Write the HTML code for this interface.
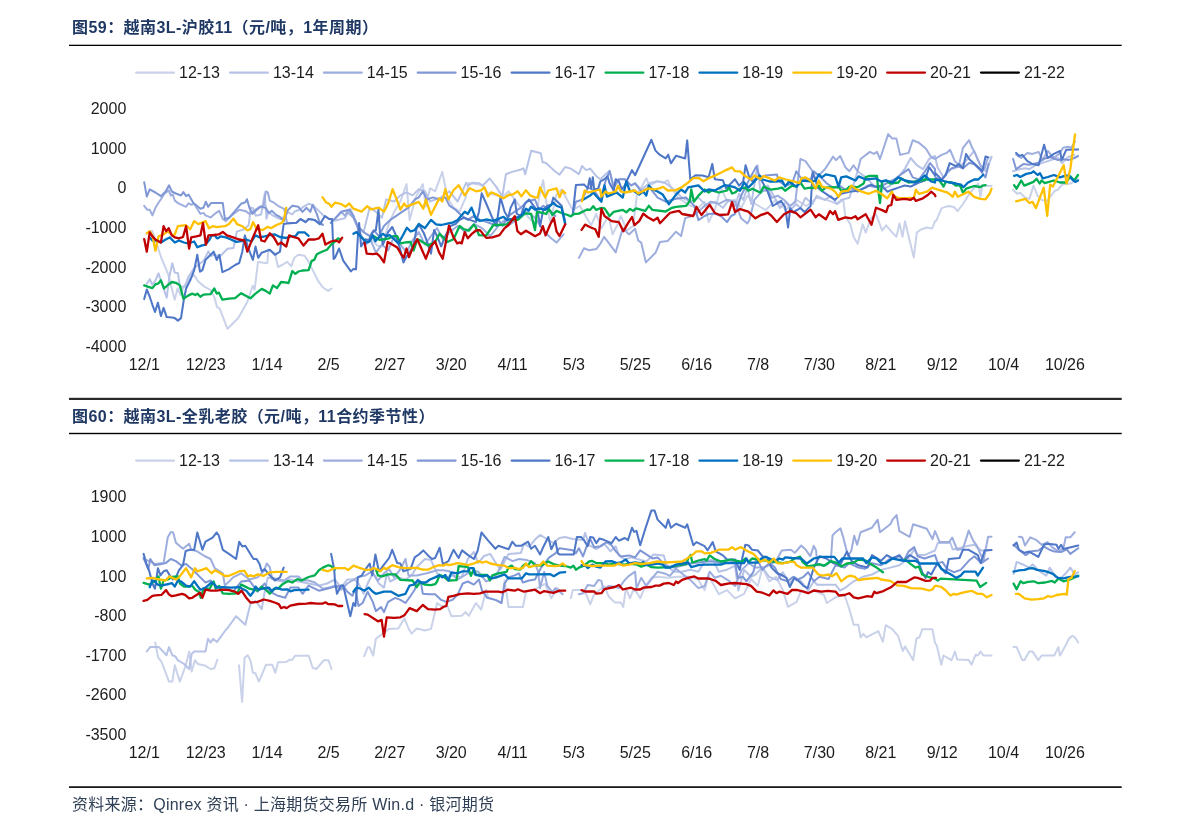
<!DOCTYPE html>
<html lang="zh-CN"><head><meta charset="utf-8"><title>图59 图60</title>
<style>
html,body{margin:0;padding:0;background:#fff;}
body{width:1191px;height:832px;position:relative;overflow:hidden;font-family:"Liberation Sans","Noto Sans CJK SC",sans-serif;color:#1a1a1a;}
.ttl{position:absolute;left:72px;font-family:"Liberation Sans","Noto Sans CJK SC",sans-serif;font-weight:700;font-size:16px;line-height:20px;color:#1f3864;white-space:nowrap;letter-spacing:0.45px;}
.src{position:absolute;left:72px;top:795px;font-size:16px;line-height:20px;color:#2f3f55;white-space:nowrap;letter-spacing:0.24px;}
svg{position:absolute;left:0;top:0;}
svg text{font-family:"Liberation Sans",sans-serif;font-size:16px;fill:#1c1c1c;}
polyline{fill:none;stroke-linejoin:round;stroke-linecap:round;}
</style></head><body>
<div class="ttl" style="top:18px">图59：越南3L-沪胶11（元/吨，1年周期）</div>
<div class="ttl" style="top:407px">图60：越南3L-全乳老胶（元/吨，11合约季节性）</div>
<svg width="1191" height="832" viewBox="0 0 1191 832">
<rect x="69" y="44.7" width="1052.7" height="1.3" fill="#000"/>
<rect x="69" y="397.8" width="1052.7" height="2.2" fill="#2a2a2a"/>
<rect x="69" y="432.8" width="1052.7" height="1.4" fill="#000"/>
<rect x="69" y="786.3" width="1052.7" height="1.6" fill="#000"/>

<g class="lab">
<line x1="136.1" y1="72.6" x2="174.0" y2="72.6" stroke="#cad2ea" stroke-width="2.2" stroke-linecap="round"/>
<text x="179.0" y="77.7">12-13</text>
<line x1="230.0" y1="72.6" x2="267.9" y2="72.6" stroke="#b7c3e6" stroke-width="2.2" stroke-linecap="round"/>
<text x="272.9" y="77.7">13-14</text>
<line x1="323.9" y1="72.6" x2="361.8" y2="72.6" stroke="#9dadde" stroke-width="2.2" stroke-linecap="round"/>
<text x="366.8" y="77.7">14-15</text>
<line x1="417.7" y1="72.6" x2="455.6" y2="72.6" stroke="#8097d6" stroke-width="2.2" stroke-linecap="round"/>
<text x="460.6" y="77.7">15-16</text>
<line x1="511.6" y1="72.6" x2="549.5" y2="72.6" stroke="#4f77c7" stroke-width="2.2" stroke-linecap="round"/>
<text x="554.5" y="77.7">16-17</text>
<line x1="605.5" y1="72.6" x2="643.4" y2="72.6" stroke="#00b050" stroke-width="2.2" stroke-linecap="round"/>
<text x="648.4" y="77.7">17-18</text>
<line x1="699.4" y1="72.6" x2="737.3" y2="72.6" stroke="#0070c0" stroke-width="2.2" stroke-linecap="round"/>
<text x="742.3" y="77.7">18-19</text>
<line x1="793.3" y1="72.6" x2="831.2" y2="72.6" stroke="#ffc000" stroke-width="2.2" stroke-linecap="round"/>
<text x="836.2" y="77.7">19-20</text>
<line x1="887.1" y1="72.6" x2="925.0" y2="72.6" stroke="#c00000" stroke-width="2.2" stroke-linecap="round"/>
<text x="930.0" y="77.7">20-21</text>
<line x1="981.0" y1="72.6" x2="1018.9" y2="72.6" stroke="#000000" stroke-width="2.2" stroke-linecap="round"/>
<text x="1023.9" y="77.7">21-22</text>
<line x1="136.1" y1="460.6" x2="174.0" y2="460.6" stroke="#cad2ea" stroke-width="2.2" stroke-linecap="round"/>
<text x="179.0" y="465.7">12-13</text>
<line x1="230.0" y1="460.6" x2="267.9" y2="460.6" stroke="#b7c3e6" stroke-width="2.2" stroke-linecap="round"/>
<text x="272.9" y="465.7">13-14</text>
<line x1="323.9" y1="460.6" x2="361.8" y2="460.6" stroke="#9dadde" stroke-width="2.2" stroke-linecap="round"/>
<text x="366.8" y="465.7">14-15</text>
<line x1="417.7" y1="460.6" x2="455.6" y2="460.6" stroke="#8097d6" stroke-width="2.2" stroke-linecap="round"/>
<text x="460.6" y="465.7">15-16</text>
<line x1="511.6" y1="460.6" x2="549.5" y2="460.6" stroke="#4f77c7" stroke-width="2.2" stroke-linecap="round"/>
<text x="554.5" y="465.7">16-17</text>
<line x1="605.5" y1="460.6" x2="643.4" y2="460.6" stroke="#00b050" stroke-width="2.2" stroke-linecap="round"/>
<text x="648.4" y="465.7">17-18</text>
<line x1="699.4" y1="460.6" x2="737.3" y2="460.6" stroke="#0070c0" stroke-width="2.2" stroke-linecap="round"/>
<text x="742.3" y="465.7">18-19</text>
<line x1="793.3" y1="460.6" x2="831.2" y2="460.6" stroke="#ffc000" stroke-width="2.2" stroke-linecap="round"/>
<text x="836.2" y="465.7">19-20</text>
<line x1="887.1" y1="460.6" x2="925.0" y2="460.6" stroke="#c00000" stroke-width="2.2" stroke-linecap="round"/>
<text x="930.0" y="465.7">20-21</text>
<line x1="981.0" y1="460.6" x2="1018.9" y2="460.6" stroke="#000000" stroke-width="2.2" stroke-linecap="round"/>
<text x="1023.9" y="465.7">21-22</text>

<text text-anchor="end" x="126.3" y="114.3">2000</text>
<text text-anchor="end" x="126.3" y="153.9">1000</text>
<text text-anchor="end" x="126.3" y="193.4">0</text>
<text text-anchor="end" x="126.3" y="233.0">-1000</text>
<text text-anchor="end" x="126.3" y="272.6">-2000</text>
<text text-anchor="end" x="126.3" y="312.2">-3000</text>
<text text-anchor="end" x="126.3" y="351.8">-4000</text>

<text text-anchor="middle" x="144.3" y="369.9">12/1</text>
<text text-anchor="middle" x="205.7" y="369.9">12/23</text>
<text text-anchor="middle" x="267.1" y="369.9">1/14</text>
<text text-anchor="middle" x="328.5" y="369.9">2/5</text>
<text text-anchor="middle" x="389.8" y="369.9">2/27</text>
<text text-anchor="middle" x="451.2" y="369.9">3/20</text>
<text text-anchor="middle" x="512.6" y="369.9">4/11</text>
<text text-anchor="middle" x="573.9" y="369.9">5/3</text>
<text text-anchor="middle" x="635.3" y="369.9">5/25</text>
<text text-anchor="middle" x="696.7" y="369.9">6/16</text>
<text text-anchor="middle" x="758.0" y="369.9">7/8</text>
<text text-anchor="middle" x="819.4" y="369.9">7/30</text>
<text text-anchor="middle" x="880.8" y="369.9">8/21</text>
<text text-anchor="middle" x="942.2" y="369.9">9/12</text>
<text text-anchor="middle" x="1003.5" y="369.9">10/4</text>
<text text-anchor="middle" x="1064.9" y="369.9">10/26</text>

<text text-anchor="end" x="126.3" y="502.3">1900</text>
<text text-anchor="end" x="126.3" y="541.9">1000</text>
<text text-anchor="end" x="126.3" y="581.5">100</text>
<text text-anchor="end" x="126.3" y="621.0">-800</text>
<text text-anchor="end" x="126.3" y="660.6">-1700</text>
<text text-anchor="end" x="126.3" y="700.2">-2600</text>
<text text-anchor="end" x="126.3" y="739.8">-3500</text>

<text text-anchor="middle" x="144.3" y="757.9">12/1</text>
<text text-anchor="middle" x="205.7" y="757.9">12/23</text>
<text text-anchor="middle" x="267.1" y="757.9">1/14</text>
<text text-anchor="middle" x="328.5" y="757.9">2/5</text>
<text text-anchor="middle" x="389.8" y="757.9">2/27</text>
<text text-anchor="middle" x="451.2" y="757.9">3/20</text>
<text text-anchor="middle" x="512.6" y="757.9">4/11</text>
<text text-anchor="middle" x="573.9" y="757.9">5/3</text>
<text text-anchor="middle" x="635.3" y="757.9">5/25</text>
<text text-anchor="middle" x="696.7" y="757.9">6/16</text>
<text text-anchor="middle" x="758.0" y="757.9">7/8</text>
<text text-anchor="middle" x="819.4" y="757.9">7/30</text>
<text text-anchor="middle" x="880.8" y="757.9">8/21</text>
<text text-anchor="middle" x="942.2" y="757.9">9/12</text>
<text text-anchor="middle" x="1003.5" y="757.9">10/4</text>
<text text-anchor="middle" x="1064.9" y="757.9">10/26</text>

</g>
<g>
<polyline points="150.2,230.9 152.2,230.9 156.2,242.2 161.4,258.1 168.1,273.9 171.4,287.1 174.7,299.7 177.6,288.5 180.6,295.1 183.9,286.5 187.9,280.5 193.8,274.6 198.5,281.8 205.1,287.1 210.4,289.8 214.3,297.1 217.0,307.0 219.6,308.3 227.5,328.8 238.1,318.2 247.4,301.7 252.7,285.8 254.6,289.8 258.0,262.0 267.2,263.3 268.5,249.5 275.0,253.4 278.0,267.0 282.1,265.0 287.2,261.9 291.3,266.0 294.3,257.8 298.4,254.8 304.6,255.8 308.6,261.9 312.7,270.1 317.8,280.3 322.9,287.5 328.1,290.9 331.5,288.5" stroke="#cad2ea" stroke-width="2.0"/>
<polyline points="355.4,219.9 361.6,236.2 365.6,244.4 371.8,238.3 376.9,245.4 382.0,246.4 388.1,226.0 394.2,211.7 400.4,201.5 406.5,184.1 409.6,219.9 415.7,197.4 422.8,184.1 425.9,206.6 430.0,188.2 435.1,191.3 442.3,171.9 447.4,197.4 453.5,207.6 459.6,211.7 465.7,197.4 468.8,183.1 476.0,184.1 482.1,185.2 488.2,193.3 496.4,195.4 502.5,197.4 508.6,191.3 514.8,199.5 520.9,207.6 527.0,215.8 535.0,224.0 539.1,197.6 543.2,180.3 546.2,201.7 550.3,222.1 556.5,194.6 561.6,189.5 567.7,200.7 572.8,209.9 579.9,205.8 586.1,217.0 591.2,225.2 596.3,214.0 601.4,228.3 608.5,216.0 612.6,234.4 616.7,226.2 620.8,216.0 626.9,230.3 633.1,226.2 637.1,193.5 641.2,187.4 646.3,178.2 649.4,185.4 657.6,181.3 663.7,182.3 667.8,180.3 670.9,187.4 673.9,191.5 678.0,197.6 684.1,201.7 690.3,205.8 698.4,207.8 704.6,201.7 708.6,222.1 714.8,209.9 720.9,187.4 727.0,201.7 735.0,199.7 741.1,208.1 747.3,195.8 755.4,204.0 765.6,210.1 775.9,199.9 786.1,210.1 796.3,199.9 806.5,206.0 816.7,197.8 826.9,199.9 837.1,204.0 843.3,199.9 845.3,216.2 850.4,224.4 853.5,236.7 857.6,243.8 862.7,224.4 865.7,232.6 870.9,218.3 876.0,214.2 882.1,230.5 886.2,225.4 892.3,232.6 896.4,236.7 899.5,223.4 902.5,236.7 905.0,221.3 909.7,240.7 913.8,257.5 916.8,232.6 920.9,229.5 927.0,227.5 932.1,228.5 935.0,221.3 936.5,220.3 941.6,208.1 948.7,206.0 953.8,207.0 957.5,211.1 963.0,204.0 968.1,195.8 974.2,187.6 978.3,183.5 980.4,196.8 982.4,185.6 991.6,186.0" stroke="#cad2ea" stroke-width="2.0"/>
<polyline points="1013.1,189.7 1017.1,193.8 1020.2,192.7 1025.3,197.8 1029.4,198.9 1033.5,185.6 1037.6,195.8 1041.7,199.9 1046.8,200.9 1050.9,195.8 1054.9,190.7 1058.0,189.7 1062.1,184.6 1070.3,183.5 1078.0,179.5" stroke="#cad2ea" stroke-width="2.0"/>
<polyline points="146.9,283.8 149.8,279.2 152.2,284.5 154.8,281.8 158.5,273.3 161.4,281.8 166.7,297.7 169.4,276.6 172.3,263.3 174.7,272.6 178.0,273.3 179.9,287.1 185.2,286.5 187.9,277.9 193.8,268.6 198.5,264.7 203.7,260.7 208.4,251.4 211.0,256.1 214.3,254.7 219.6,256.7 227.5,248.8 233.5,248.1 236.8,231.6 244.7,229.0 248.7,225.0 250.9,207.3 253.3,208.5 255.7,215.7 261.1,214.5 264.7,194.0 266.5,218.7 268.3,212.1 273.1,215.7 277.9,218.1 281.5,219.3 288.1,212.1 292.3,214.5 294.7,211.5 299.5,209.7 304.4,206.1 309.2,203.7 314.0,206.1 318.8,210.9 323.6,215.7 329.6,219.3 335.6,220.5 345.0,218.1 350.3,208.7 357.5,226.0 363.6,232.1 369.7,207.6 375.9,211.7 382.0,217.8 386.1,199.5 394.2,201.5 400.4,195.4 406.5,192.3 412.6,195.4 418.8,189.2 424.9,191.3 430.0,201.5 441.2,197.4 449.4,191.3 457.6,201.5 466.3,182.7 468.1,185.7 472.3,182.7 479.5,183.3 482.5,185.7 489.7,178.5 496.3,186.9 502.3,196.5 505.9,174.3 512.0,171.9 521.0,169.5 523.4,168.3 525.2,174.3 531.2,150.8 540.8,153.2 542.6,162.2 545.6,162.8 555.0,171.3 559.5,174.7 565.2,167.0 570.8,168.6 578.9,174.1 582.0,166.0 586.1,170.1 590.2,168.6 596.3,176.2 600.4,179.2 604.5,175.2 609.6,170.7 613.7,187.4 618.8,179.2 624.9,179.2 631.0,185.4 635.1,183.3 641.2,189.5 649.4,183.3 657.6,181.3 665.7,183.3 673.9,189.5 682.1,197.6 690.3,201.7 698.4,197.6 706.6,205.8 714.8,201.7 722.9,207.8 729.1,199.7 735.0,205.8 739.1,193.8 743.2,199.9 747.3,187.6 751.3,204.0 757.5,165.2 760.5,191.7 767.7,185.6 773.8,195.8 779.9,208.1 786.1,201.9 790.2,210.1 796.3,204.0 800.4,208.1 805.5,197.8 812.6,204.0 816.7,195.8 824.9,199.9 831.0,195.8 837.1,204.0 841.2,199.9 849.4,197.8 857.6,171.3 865.7,177.4 873.9,185.6 882.1,189.7 890.3,185.6 898.4,177.4 904.6,169.2 910.7,158.0 916.8,165.2 922.9,169.2 929.1,159.0 935.0,156.0 937.5,167.2 943.6,177.4 950.8,169.2 956.9,167.2 964.0,163.1 969.1,157.0 974.2,150.9 978.3,161.1 982.4,169.2 986.5,171.3 991.6,156.6" stroke="#b7c3e6" stroke-width="2.0"/>
<polyline points="1013.1,171.3 1019.2,169.2 1025.3,168.2 1029.4,169.2 1035.5,165.2 1041.7,163.1 1047.8,161.1 1053.9,159.0 1058.0,158.0 1062.1,163.1 1068.2,157.0 1074.3,154.9" stroke="#b7c3e6" stroke-width="2.0"/>
<polyline points="144.2,205.8 147.3,209.8 149.7,209.8 152.4,215.4 155.4,207.8 158.5,202.7 160.9,199.2 164.6,193.5 168.7,190.4 170.8,195.5 172.8,194.5 174.8,200.6 178.9,203.7 186.1,206.8 188.5,203.3 191.2,204.7 194.2,203.7 200.4,213.9 203.4,212.9 205.5,215.4 210.6,217.4 214.7,213.9 219.2,210.9 222.8,219.0 225.9,221.1 231.0,216.0 239.2,209.8 245.3,210.9 249.4,213.9 255.5,209.8 259.6,206.8 263.7,205.8 265.7,191.5 267.8,192.5 269.8,200.6 273.9,202.7 278.0,205.8 284.1,208.8 287.2,223.1 296.4,222.7 300.5,219.0 305.6,222.1 308.6,219.0 314.8,220.1 319.9,224.1 322.9,224.7" stroke="#9dadde" stroke-width="2.0"/>
<polyline points="330.8,222.9 335.6,218.1 341.6,212.1 345.0,215.7 347.3,211.7 353.4,217.8 359.5,232.1 365.6,244.4 370.8,240.3 375.9,252.6 382.0,244.4 388.1,250.5 394.2,236.2 400.4,244.4 406.5,252.6 412.6,240.3 418.8,232.1 424.9,244.4 431.0,236.2 437.1,228.1 443.3,240.3 449.4,232.1 457.6,226.0 465.7,232.1 473.9,224.0 482.1,228.1 490.3,236.2 498.4,226.0 504.6,219.9 510.7,224.0 518.9,217.8 527.0,211.7 535.0,217.8 543.2,230.3 550.3,237.5 556.5,242.6 563.6,234.4" stroke="#9dadde" stroke-width="2.0"/>
<polyline points="578.9,257.9 584.0,248.3 589.1,250.3 596.3,249.1 600.4,243.6 604.1,236.9 608.5,242.6 615.7,252.4 622.8,228.3 629.0,234.4 635.1,228.7 638.2,240.5 641.2,242.6 645.9,262.4 655.5,252.8 660.0,242.0 667.8,240.9 676.0,231.7 681.1,236.0 685.2,218.1 692.3,216.0 698.4,211.9 704.6,205.8 710.7,201.7 718.9,203.8 727.0,199.7 735.0,201.7 741.1,218.3 747.3,223.4 749.3,220.3 754.4,199.9 761.6,191.7 767.7,189.7 771.8,197.8 777.9,195.8 784.0,199.9 790.2,206.0 795.3,201.9 800.4,159.0 805.5,161.1 812.6,171.3 818.8,175.4 824.9,169.2 833.1,156.6 836.1,160.1 840.2,156.0 845.3,167.2 849.4,171.3 853.5,165.2 857.6,171.3 860.6,159.0 869.8,151.9 873.9,153.9 877.0,151.9 880.0,159.0 888.2,134.1 892.3,138.6 896.4,138.6 900.1,154.9 908.6,152.9 912.7,140.2 918.9,142.7 926.0,148.8 931.1,157.0 935.0,159.0 941.6,154.9 946.7,152.9 950.1,149.8 954.8,161.1 958.9,165.2 963.0,147.8 969.1,140.2 972.2,147.8 976.3,156.0 980.4,165.2 984.5,169.2 987.5,159.0" stroke="#9dadde" stroke-width="2.0"/>
<polyline points="1016.1,154.5 1021.2,158.0 1027.4,152.9 1032.5,153.9 1038.6,151.9 1042.7,160.1 1047.8,150.9 1053.9,158.0 1060.0,152.9 1063.1,147.8 1068.2,146.8 1071.3,147.8 1075.0,141.7" stroke="#9dadde" stroke-width="2.0"/>
<polyline points="144.2,182.3 146.8,196.6 149.7,189.4 155.4,192.5 160.9,196.1 165.6,191.5 169.1,185.3 171.8,191.5 175.9,193.5 181.0,195.5 183.4,192.1 186.1,196.1 188.5,194.5 193.2,202.7 200.4,208.8 203.4,207.8 205.9,201.7 208.1,206.8 211.0,203.1 222.8,203.1 224.9,219.0 229.0,218.0 235.1,210.9 241.2,203.7 245.3,202.3 247.0,199.2 249.4,207.8 252.5,213.9 255.5,210.9 260.6,206.8 265.7,207.8 268.8,212.9 271.9,210.9 276.0,214.9 280.0,217.0 284.1,221.1 287.2,210.9 292.3,205.8 298.4,206.8 302.5,211.9 306.6,207.8 310.3,211.9 312.7,204.7 316.8,213.9 319.9,223.5 322.9,224.7" stroke="#8097d6" stroke-width="2.0"/>
<polyline points="330.7,222.9 335.0,218.6 341.1,211.7 349.3,209.7 353.4,215.8 357.5,226.0 363.6,232.1 369.7,236.2 373.8,230.1 378.9,236.2 384.0,226.0 390.2,219.9 396.3,215.8 402.4,211.7 408.5,207.6 414.7,199.5 418.8,197.4 422.8,191.3 426.9,199.5 433.1,197.4 439.2,199.5 445.3,197.4 449.4,205.6 455.5,209.7 461.7,215.8 467.8,219.9 473.9,215.8 480.0,219.9 486.2,221.9 492.3,224.0 498.4,219.9 502.5,226.0 508.6,215.8 514.8,211.7 520.9,207.6 527.0,201.5 535.0,199.5 539.1,209.9 543.2,205.8 549.3,209.9 555.4,216.0" stroke="#8097d6" stroke-width="2.0"/>
<polyline points="572.8,214.0 575.9,201.7 582.0,199.7 588.1,187.4 594.2,190.5 600.4,199.7 605.5,181.3 609.6,171.1 613.7,187.4 618.8,179.2 624.9,179.2 631.0,185.4 635.1,183.3 641.2,191.5 649.4,187.4 657.6,197.6 665.7,201.7 676.0,198.7 686.2,197.6 694.3,205.8 698.4,220.1 704.6,216.0 708.6,214.0 714.8,213.6 720.9,216.0 727.0,222.1 731.1,216.0 735.0,214.0 741.1,195.8 745.2,187.6 750.3,177.4 756.5,166.2 759.5,177.4 765.6,175.4 776.9,174.4 778.9,181.5 786.1,185.6 792.2,183.5 796.3,171.3 800.4,177.4 810.6,179.5 813.7,171.3 820.8,177.4 826.9,183.5 833.1,187.6 839.2,185.6 845.3,189.7 851.4,187.6 857.6,191.7 867.8,185.6 878.0,187.6 886.2,183.5 894.3,179.5 902.5,173.3 908.6,169.2 912.7,177.4 918.9,179.5 925.0,171.3 930.1,163.1 935.0,169.2 935.4,177.4 941.6,180.5 947.7,171.3 951.8,168.2 957.9,166.2 963.0,168.2 969.1,163.1 974.2,164.1 980.4,170.3 985.5,177.4 988.5,164.1" stroke="#8097d6" stroke-width="2.0"/>
<polyline points="1013.1,159.0 1016.1,169.2 1023.3,164.1 1029.4,164.7 1037.6,163.1 1043.7,159.0 1049.8,157.0 1058.0,160.1 1063.1,159.0 1068.2,160.1 1074.3,158.0 1078.0,156.0" stroke="#8097d6" stroke-width="2.0"/>
<polyline points="144.2,299.1 146.8,289.5 149.7,296.7 152.4,304.8 155.0,312.0 157.9,302.8 160.9,316.1 163.6,307.9 166.7,317.1 171.8,317.5 174.8,318.1 177.9,320.6 181.0,318.1 184.0,298.7 186.1,288.5 190.2,280.3 194.2,270.1 197.3,254.8 200.0,271.7 202.4,270.1 205.5,259.9 209.6,255.8 213.7,251.7 216.7,259.9 219.4,254.8 222.4,272.1 229.0,269.1 235.1,265.0 239.2,263.0 242.3,251.7 244.9,235.4 247.4,245.6 250.0,252.7 252.9,259.9 255.5,246.6 258.2,257.8 261.7,252.7 269.8,249.7 274.9,254.8 280.0,251.7 282.1,235.4 283.7,224.1 287.2,223.5 296.4,222.7 300.5,219.0 305.6,222.1 308.6,219.0 314.8,220.1 319.9,224.1 325.0,216.0 329.1,219.0 332.1,219.0 333.6,258.9 335.0,257.8 339.1,248.5 343.2,260.7 350.9,271.4 353.4,268.9 356.0,269.3 357.9,236.2 359.1,223.0 361.1,246.4 365.6,239.3 368.7,240.3 372.8,232.1 375.9,230.1 378.5,209.7 379.9,232.1 383.0,244.4 388.1,232.1 392.2,227.0 396.3,236.2 400.0,248.5 403.4,262.4 406.5,256.7 409.6,252.6 413.7,244.4 416.7,228.1 419.2,225.0 423.9,233.2 428.0,244.4 431.0,253.6 434.1,230.1 437.1,236.2 441.2,246.4 445.3,236.2 450.4,226.0 455.5,224.0 459.6,219.9 463.7,217.8 469.8,219.9 476.0,221.9 479.0,211.7 481.7,193.3 486.2,203.5 492.3,217.8 496.4,226.0 500.5,197.4 504.6,211.7 508.2,217.8 510.7,207.6 514.8,199.5 516.8,213.8 520.9,215.8 525.0,203.5 529.1,199.5 535.0,207.6 538.1,214.0 540.1,226.2 543.2,209.9 547.3,205.8 551.3,204.8 553.4,197.6 557.5,201.7 561.6,205.8 565.2,222.1" stroke="#4f77c7" stroke-width="2.05"/>
<polyline points="572.8,214.0 575.9,185.0 584.0,184.4 587.7,188.4 589.7,178.2 591.2,188.4 592.8,177.2 594.2,189.5 598.3,188.4 600.4,181.3 604.5,179.2 607.5,176.2 609.6,183.3 613.7,190.5 615.7,179.2 618.8,181.3 621.8,189.5 624.9,185.4 628.0,178.2 632.0,170.1 635.1,175.2 651.4,139.8 655.5,150.6 659.6,154.7 665.7,158.4 668.2,154.7 670.9,163.3 676.0,155.8 685.2,158.4 687.2,140.4 690.3,179.2 695.4,175.2 702.5,175.6 708.6,177.2 712.3,163.9 714.8,179.2 722.9,180.3 726.0,188.4 735.0,179.2 739.1,185.6 743.2,181.5 745.6,165.2 749.3,177.4 752.4,181.5 757.5,177.4 761.6,180.5 767.7,191.7 772.8,206.0 775.9,204.0 781.0,200.9 785.1,207.0 788.1,227.5 790.2,208.1 793.2,212.1 800.4,208.1 804.5,212.1 810.6,206.0 812.6,172.3 814.7,177.4 817.7,187.6 822.8,191.7 829.0,195.8 835.1,199.9 841.2,193.8 849.4,191.7 857.6,190.7 865.7,187.6 870.9,184.6 876.0,186.6 882.1,185.6 887.2,191.7 892.3,189.7 898.4,187.6 904.6,185.6 910.7,186.6 918.9,182.5 925.0,180.5 929.1,167.2 932.1,171.3 935.0,175.4 935.4,173.3 941.6,179.5 945.6,175.4 949.7,163.1 955.9,166.2 958.9,164.1 963.0,168.2 966.1,153.9 969.1,159.0 978.3,167.2 982.4,171.3 985.5,156.6 988.5,157.4" stroke="#4f77c7" stroke-width="2.05"/>
<polyline points="1016.1,152.9 1019.2,156.0 1022.3,154.9 1027.4,161.1 1032.5,164.1 1038.6,165.2 1044.1,144.7 1047.8,158.0 1053.9,153.9 1060.0,150.9 1061.7,160.1 1066.2,149.8 1078.0,149.4" stroke="#4f77c7" stroke-width="2.05"/>
<polyline points="144.2,285.4 148.3,286.9 152.4,288.1 155.4,284.4 158.5,283.4 160.9,280.3 164.0,288.5 168.7,284.4 171.8,282.0 175.9,282.8 179.9,285.4 183.4,298.7 188.1,295.6 192.2,293.6 195.3,295.0 197.3,293.6 200.4,296.7 203.4,294.6 210.6,294.2 214.3,288.5 216.7,293.6 218.8,292.6 222.4,299.7 229.0,298.7 235.1,298.1 241.2,293.2 245.3,295.6 250.4,298.3 255.5,293.6 261.7,288.9 265.7,290.9 269.8,293.6 272.9,285.4 277.0,288.1 281.1,282.0 285.2,282.4 288.6,283.0 292.3,271.1 295.4,273.8 298.4,271.5 302.5,270.5 308.6,270.1 311.7,260.9 314.2,259.9 316.8,254.2 321.9,251.7 327.0,249.7 331.1,244.6 335.0,241.5 338.1,238.3 340.1,239.3" stroke="#00b050" stroke-width="2.3"/>
<polyline points="373.8,236.2 379.9,239.9 389.1,238.3 393.2,236.2 397.3,236.2 400.4,243.4 405.5,242.4 410.6,242.0 413.7,250.5 417.3,239.3 419.8,240.3 428.0,245.4 435.1,242.0 439.6,233.8 444.3,238.3 447.4,242.0 453.5,239.3 459.6,226.0 463.7,229.1 468.8,230.7 473.9,224.6 476.0,227.7 479.0,235.2 486.2,235.6 493.3,225.0 498.4,225.0 506.6,224.4 512.7,219.9 517.8,219.9 525.0,213.4 531.1,213.8 535.0,230.1 537.0,211.9 543.2,213.0 546.2,214.0 548.9,208.9 552.4,215.0 556.5,210.9 561.6,213.0 567.7,215.0 570.8,216.4 573.8,214.0 578.9,213.6 587.1,209.5 590.2,209.9 593.2,206.2 596.3,209.9 601.4,207.8 604.5,208.3 609.6,216.0 613.7,211.9 622.8,209.9 626.3,212.3 630.0,208.9 633.1,210.9 636.1,208.3 645.3,210.9 648.8,205.8 652.5,209.9 665.7,211.5 671.9,207.8 676.0,206.8 686.2,205.8 689.9,200.7 691.3,189.5 693.9,201.7 698.4,195.6 704.6,189.5 708.6,192.5 711.7,190.5 718.9,192.5 727.0,190.5 729.1,187.4 732.1,193.5 735.0,192.5 740.1,188.7 745.2,187.6 748.3,190.7 752.4,188.7 760.5,192.7 763.6,186.6 770.8,189.7 777.9,188.7 782.0,187.6 785.1,190.7 792.2,185.6 796.3,186.6 800.4,182.5 804.5,188.7 810.6,187.6 814.7,188.2 818.8,185.6 821.8,190.7 825.9,187.6 833.1,187.2 839.2,187.6 841.2,190.7 846.3,189.7 849.4,186.6 857.6,187.2 863.7,183.5 865.7,177.0 869.8,175.8 877.0,175.8 878.0,187.6 880.0,203.0 882.1,181.5 886.2,180.5 890.3,183.5 898.4,182.5 901.5,178.4 908.6,182.5 914.8,181.5 925.0,179.5 935.0,179.5 939.5,180.5 943.6,186.6 945.6,181.9 951.8,182.5 955.9,185.6 959.9,185.2 963.0,192.7 966.1,188.7 974.2,186.0 980.4,187.2 982.4,185.6 985.5,185.2" stroke="#00b050" stroke-width="2.3"/>
<polyline points="1014.1,185.2 1016.5,188.7 1021.2,180.5 1024.3,185.6 1033.5,181.9 1036.6,178.8 1039.6,183.5 1041.7,180.5 1044.7,183.1 1053.9,180.5 1060.0,182.5 1066.2,182.5 1070.3,176.4 1074.3,180.5 1078.0,175.0" stroke="#00b050" stroke-width="2.3"/>
<polyline points="149.7,237.4 152.4,240.5 155.4,240.5 160.9,242.5 165.6,239.5 169.7,237.4 174.8,242.5 178.9,240.5 184.0,242.5 188.1,243.5 194.2,241.5 197.3,247.2 201.4,245.6 205.5,244.6 209.6,239.5 211.6,235.4 214.7,235.4 217.3,238.4 220.8,236.4 225.9,237.4 231.0,239.5 236.1,241.9 241.2,241.1 246.3,239.5 251.4,241.5 255.5,235.4 259.6,237.4 264.7,236.4 269.8,235.0 274.9,234.4 280.0,237.0 286.2,238.0 290.3,236.4 295.4,236.4 298.4,232.3 304.6,232.3 308.6,235.8" stroke="#0070c0" stroke-width="2.3"/>
<polyline points="353.4,233.8 356.5,232.1 360.5,236.2 366.7,242.4 369.7,241.3 372.8,235.2 375.4,241.3 379.9,236.2 383.0,233.8 386.1,236.2 389.7,235.2 393.2,238.3 398.3,243.4 402.4,236.2 406.9,227.7 410.6,231.5 414.7,230.1 418.8,224.0 424.9,228.1 431.0,219.9 436.1,224.4 441.2,225.0 447.4,223.6 453.5,222.3 457.6,219.9 464.7,211.7 467.8,213.8 471.5,207.6 476.0,218.9 480.0,220.9 486.2,219.5 493.3,220.9 498.4,218.9 503.5,216.8 507.0,219.9 512.7,218.9 518.9,216.8 522.9,213.8 526.0,208.7 528.7,210.7 531.1,206.6 535.0,209.7 539.1,208.3 545.2,209.9 549.3,206.8 553.4,202.7 556.5,205.8 561.6,207.8 565.2,224.2" stroke="#0070c0" stroke-width="2.3"/>
<polyline points="583.0,199.7 590.2,195.6 593.2,192.5 601.4,201.7 604.5,185.4 606.9,196.6 611.6,194.6 616.7,192.5 622.8,197.6 626.3,181.3 630.0,191.5 633.1,190.5 639.2,194.6 643.3,191.5 646.3,195.6 648.8,185.4 652.5,189.5 657.6,191.5 662.7,194.6 668.8,204.2 676.0,194.6 681.1,189.5 685.2,192.5 688.2,187.4 698.4,185.4 704.6,191.5 708.6,189.5 714.8,190.5 725.0,185.0 731.1,186.4 735.0,187.4 740.1,190.7 744.2,182.5 748.3,187.6 754.4,181.5 759.5,175.4 762.6,179.5 769.7,181.5 775.9,181.5 782.0,180.5 785.1,186.6 789.1,181.5 796.3,186.6 802.4,180.5 812.6,181.5 815.7,180.5 818.8,174.4 821.8,177.4 825.9,174.4 835.1,176.4 838.6,186.6 841.2,177.4 846.3,176.4 855.5,180.5 858.6,176.4 865.7,179.5 876.0,178.4 881.1,181.5 886.2,180.5 892.3,182.5 898.4,177.4 904.6,180.5 914.8,182.5 918.9,180.5 925.0,175.4 931.1,181.5 935.0,182.5 935.4,179.5 941.6,180.5 949.7,182.5 955.9,183.5 961.0,184.6 963.4,187.2 968.1,182.5 974.2,179.5 978.3,179.5 983.0,175.0" stroke="#0070c0" stroke-width="2.3"/>
<polyline points="1014.1,175.8 1017.1,175.0 1020.2,177.0 1026.3,173.9 1031.4,172.9 1033.5,171.3 1037.6,175.0 1040.0,173.3 1042.7,178.4 1047.8,177.0 1053.9,175.0 1060.0,177.4 1066.2,175.4 1069.2,175.8 1072.3,179.5 1075.4,181.9 1078.0,180.5" stroke="#0070c0" stroke-width="2.3"/>
<polyline points="146.8,233.3 149.7,231.3 152.4,235.4 155.4,250.7 158.5,236.4 163.6,234.4 167.7,231.3 172.8,235.4 174.8,234.4 177.9,226.2 186.1,225.2 190.2,229.2 194.2,221.1 198.3,224.1 205.5,221.1 209.0,228.2 212.6,226.2 216.7,227.2 224.9,226.2 229.0,224.1 233.5,218.6 237.1,224.1 242.3,226.2 247.4,230.3 250.4,229.2 253.1,222.1 256.6,229.2 262.7,229.9 267.8,226.8 270.9,228.2 276.0,225.2 282.1,222.7 284.1,219.0 286.2,207.8" stroke="#ffc000" stroke-width="2.3"/>
<polyline points="322.5,197.2 326.0,202.3 329.1,203.7 331.5,206.8 335.0,202.7 341.1,204.0 345.2,206.6 349.3,203.5 353.4,208.7 361.6,211.7 367.3,206.2 370.8,209.3 378.9,207.6 384.0,211.7 388.5,202.5 392.6,189.2 396.3,198.4 400.4,209.7 404.1,203.5 406.5,206.6 418.8,201.9 423.3,208.7 425.9,199.5 431.0,214.8 439.2,198.4 442.3,201.5 445.3,189.2 448.4,199.5 453.5,190.3 458.6,185.2 464.7,195.4 469.8,188.2 476.0,191.3 481.1,190.3 484.5,187.2 487.8,196.4 491.3,192.3 498.4,195.4 503.5,198.4 508.6,195.0 512.7,194.4 517.8,191.3 521.3,196.4 526.0,190.3 530.1,195.4 535.0,197.4 537.5,197.6 540.1,187.4 545.2,197.6 548.3,190.5 556.5,188.4 559.5,197.2 562.6,190.5 565.2,193.1" stroke="#ffc000" stroke-width="2.3"/>
<polyline points="582.0,201.3 584.6,190.5 588.1,192.5 596.3,190.5 600.0,189.5 601.4,196.6 605.5,191.5 608.5,193.5 615.7,191.5 618.1,185.8 620.8,191.5 624.9,192.5 635.1,190.5 638.2,193.5 642.3,191.5 648.4,188.4 654.5,189.5 659.6,188.4 663.1,186.8 667.8,190.5 676.0,190.1 682.1,187.0 687.2,183.3 693.3,178.2 698.4,177.8 703.5,181.3 708.6,178.2 714.8,175.6 720.9,172.7 726.0,170.1 732.1,167.4 735.0,171.1 740.1,171.3 744.2,175.4 751.3,179.5 754.4,175.4 760.5,179.1 763.6,176.0 769.7,178.4 774.8,180.5 778.9,177.4 786.1,179.5 794.2,181.5 799.4,183.1 801.4,178.4 805.5,177.4 811.6,181.5 815.7,188.7 818.8,180.5 821.8,186.6 831.0,188.7 835.1,191.7 838.6,196.8 841.2,191.7 848.4,190.7 851.4,185.6 855.5,188.7 861.7,191.7 868.8,193.8 876.0,190.7 881.1,193.8 887.2,198.3 891.9,191.7 893.3,195.8 898.4,197.8 904.6,198.3 910.7,197.8 913.8,198.3 915.8,189.7 918.9,193.8 927.0,191.7 932.1,187.6 935.0,188.7 939.5,190.1 947.7,192.7 952.8,196.8 954.8,191.7 957.9,196.8 964.0,193.8 968.5,191.7 974.2,196.8 980.4,198.9 985.5,199.3 989.6,193.8 991.6,188.7" stroke="#ffc000" stroke-width="2.3"/>
<polyline points="1016.1,201.3 1025.3,198.9 1029.4,203.0 1032.5,201.9 1035.9,208.1 1043.7,187.6 1047.2,215.8 1050.2,184.6 1052.9,186.6 1063.7,165.2 1066.6,183.5 1070.3,169.2 1075.0,134.5" stroke="#ffc000" stroke-width="2.3"/>
<polyline points="144.2,239.1 146.8,251.7 149.7,232.3 152.4,236.4 155.4,239.5 160.9,242.5 163.6,226.2 166.1,231.3 168.7,228.2 171.8,235.4 174.8,237.4 178.9,238.4 183.0,237.0 186.1,226.2 189.1,248.7 191.2,237.4 196.3,236.4 200.4,235.4 203.0,223.1 205.9,244.6 208.5,235.4 213.7,235.0 218.8,234.4 222.8,231.9 226.9,235.4 233.1,237.4 239.2,239.5 244.3,240.5 247.4,251.7 252.5,238.4 258.2,225.2 261.3,240.5 264.7,241.5 269.8,233.3 273.9,237.4 278.0,244.6 281.1,242.5 286.2,246.6 289.2,235.4 293.3,237.0 298.4,238.4 303.5,245.6 308.6,239.5 314.8,239.5 318.9,238.4 322.5,233.7 325.4,244.6 331.1,241.5 335.0,240.5 338.1,241.3 339.1,242.4 342.2,237.7" stroke="#c00000" stroke-width="2.3"/>
<polyline points="364.6,243.0 366.7,253.6 372.8,254.2 376.9,253.6 379.9,256.3 384.0,262.4 387.7,242.0 392.2,244.4 397.3,247.5 401.4,254.6 403.8,257.7 406.5,248.5 409.0,257.1 413.7,245.4 417.3,239.3 421.8,249.5 425.9,258.7 430.0,247.5 435.1,241.3 439.2,252.6 442.7,258.7 449.0,225.6 453.5,237.3 457.2,243.4 460.0,242.4 461.7,243.4 464.7,232.1 467.8,238.3 471.5,234.2 476.0,230.5 480.0,230.1 486.2,237.9 492.3,237.3 499.5,235.2 504.6,228.1 508.6,225.0 514.8,216.2 517.4,231.1 520.9,234.2 526.0,230.7 531.1,233.8 535.0,236.2 540.1,233.4 542.8,226.2 545.6,235.4 550.3,224.2 553.8,217.7 556.5,231.3 559.5,236.0 565.2,224.2" stroke="#c00000" stroke-width="2.3"/>
<polyline points="581.6,229.9 585.1,224.6 590.2,227.3 595.3,229.3 598.7,236.9 601.4,208.9 604.5,216.0 611.6,221.1 618.8,222.1 623.3,231.3 628.0,223.2 632.0,217.0 634.5,225.2 639.2,221.1 643.3,213.6 647.4,217.0 653.5,220.5 657.6,217.7 660.0,223.2 669.8,213.0 673.9,211.9 679.0,210.9 682.1,214.0 693.3,216.0 696.4,206.8 701.5,215.0 709.7,204.8 714.8,213.0 719.9,215.0 728.1,214.4 732.1,202.1 735.0,211.9 740.1,209.1 748.3,211.7 755.4,218.3 760.5,215.2 767.7,212.6 771.8,216.2 776.9,222.0 784.0,214.2 790.2,211.1 796.3,213.2 800.4,217.3 810.6,209.7 815.7,217.3 818.8,214.2 825.9,219.3 830.0,211.1 833.1,214.2 835.1,211.1 838.2,219.9 845.3,217.3 851.4,218.3 855.5,216.2 857.6,219.3 865.7,214.2 871.5,224.8 876.0,207.7 882.1,210.1 886.2,212.1 888.2,206.0 891.3,205.0 893.3,194.8 896.4,199.9 904.6,198.9 910.7,199.9 913.8,197.8 915.8,200.9 922.9,198.3 928.1,194.8 931.1,191.7 935.0,194.8 935.4,196.2" stroke="#c00000" stroke-width="2.3"/>
</g>
<g>
<polyline points="155.2,642.6 158.2,657.7 161.4,661.5 169.0,681.6 172.3,681.6 174.8,665.3 179.8,681.6 185.4,666.5 189.2,651.4 191.7,671.6 194.9,660.2 198.0,664.0 205.5,665.8 210.6,669.0 214.3,668.3 217.4,659.7" stroke="#cad2ea" stroke-width="2.0"/>
<polyline points="239.0,665.3 242.1,701.8 244.6,657.7 247.6,655.2 250.4,660.2 252.9,672.8 255.4,673.3 258.9,681.6 266.0,664.8 272.3,664.8 275.3,672.8 278.1,662.2 286.1,662.0 289.9,659.7 292.4,659.7 294.9,655.7 308.8,655.7 312.6,667.8 316.4,669.0 323.9,660.2 328.5,660.2 331.5,669.0" stroke="#cad2ea" stroke-width="2.0"/>
<polyline points="364.2,656.1 367.7,647.3 369.7,647.3 373.2,655.5 375.9,638.7 384.0,632.6 389.1,628.9 398.3,628.5 404.5,618.3 408.5,628.5 411.6,633.6 416.7,628.5 424.9,630.5 431.0,628.9 437.1,603.0 441.2,606.0 447.4,606.0 451.4,616.2 461.7,615.8 465.7,612.1 468.8,615.8 476.0,603.0 481.1,609.7 486.2,589.7 488.2,597.8 498.4,600.9 501.5,603.0 504.6,580.5 508.6,607.0 522.9,607.0 526.0,591.7 531.1,590.7 535.0,589.7 540.1,586.0 545.2,584.0 551.3,598.3 557.5,588.1 562.6,594.2" stroke="#cad2ea" stroke-width="2.0"/>
<polyline points="570.8,598.3 572.8,590.1 582.0,590.1 586.1,594.2 590.2,604.4 594.2,594.2 604.5,586.0 608.5,596.2 614.7,602.4 620.8,602.4 623.3,606.9 625.9,588.1 630.0,598.3 633.1,590.1 636.5,592.1 640.2,598.3 645.3,586.0 651.4,577.8 657.6,576.8 667.8,577.8 678.0,576.8 690.3,576.8 698.4,579.9 704.6,590.1 708.6,575.8 718.9,594.2 727.0,590.1 735.0,598.3 744.1,593.9 751.0,579.0 757.8,585.9 762.4,567.6 769.2,581.3 776.1,576.8 782.9,590.5 788.0,606.9 796.6,601.9 801.2,590.5 808.1,592.7 814.9,590.5 824.0,595.0 826.8,603.0 835.5,597.3 842.3,595.0 844.6,595.0 849.2,608.7 853.7,624.7 858.3,624.7 860.6,637.3 863.3,633.8 866.3,637.3 872.0,634.3 878.4,631.1 882.9,641.8 885.7,625.2 892.5,629.3 898.2,636.1 902.8,651.0 905.1,646.4 913.1,660.1 916.5,638.4 919.5,637.3 922.2,629.3 932.5,629.3 935.0,643.0 936.7,645.3 941.3,664.7 943.5,655.5 951.5,660.1 955.0,651.6 957.2,659.4 968.7,660.1 971.6,664.7 975.5,654.8 977.8,655.5 980.5,651.6 983.5,655.5 991.5,655.5" stroke="#cad2ea" stroke-width="2.0"/>
<polyline points="1013.6,647.1 1016.6,647.1 1022.3,660.1 1024.6,660.1 1029.2,651.6 1032.6,651.6 1038.3,660.1 1041.7,655.5 1054.3,655.5 1058.4,647.1 1060.0,655.5 1065.7,645.3 1069.1,638.4 1072.5,635.7 1074.8,637.3 1078.2,642.5" stroke="#cad2ea" stroke-width="2.0"/>
<polyline points="146.8,651.4 150.1,647.1 158.9,647.1 166.5,655.2 169.0,647.1 172.3,655.2 175.3,656.4 177.8,660.2 184.1,664.0 189.2,669.0 191.7,653.9 194.2,651.4 205.5,651.4 208.0,638.8 210.6,642.6 213.1,638.8 216.9,642.1 225.7,630.0 228.0,627.5 236.1,616.2 245.3,624.8 250.4,604.0 255.5,600.9 261.7,609.1 264.7,591.7 267.8,577.4 273.9,579.5 282.1,581.5 290.3,579.5 298.4,581.5 308.6,583.5 318.9,585.6 327.0,583.5 335.0,579.5 341.1,587.6 347.3,579.5 354.4,579.5 358.5,583.5 363.6,593.8 367.7,583.5 372.8,573.3 378.9,583.5 384.0,587.6 387.1,573.3 390.2,581.5 398.3,577.4 405.5,579.5 411.6,575.4 416.7,567.2 424.9,559.0 431.0,560.1 437.1,573.3 445.3,577.4 453.5,575.4 461.7,577.4 467.8,559.0 473.9,551.9 478.0,563.1 484.1,556.0 490.3,553.9 496.4,564.1 500.5,569.2 508.6,553.9 520.9,552.9 524.0,543.7 529.1,546.8 535.0,539.6 540.1,534.9 545.2,538.0 553.4,543.1 559.5,538.0 565.2,537.0 572.8,539.0 583.0,540.1 585.1,532.9 589.1,545.2 596.3,549.2 604.5,544.1 610.6,551.3 615.7,546.2 618.8,555.4 624.9,559.5 631.0,557.4 646.3,561.5 653.5,554.4 663.7,555.4 666.8,565.6 673.9,571.7 682.1,571.7 690.3,569.7 698.4,571.7 704.6,561.5 712.7,559.5 718.9,571.7 727.0,569.7 735.0,565.6 738.4,590.5 744.1,569.9 751.0,576.8 755.5,574.5 762.4,567.6 769.2,576.8 777.2,580.2 782.9,572.2 789.8,583.6 794.4,576.8 801.2,581.3 808.1,590.5 813.8,581.3 817.2,584.7 835.5,584.7 840.0,590.5 844.6,588.2 853.7,581.3 862.9,576.8 872.0,574.5 881.1,569.9 890.3,567.6 899.4,565.3 908.5,558.5 914.2,549.4 917.6,555.1 924.5,555.1 935.0,550.5 937.8,543.0 950.4,543.0 952.7,549.4 958.4,548.2 967.5,545.9 974.4,544.8 981.2,550.5 991.5,550.0" stroke="#b7c3e6" stroke-width="2.0"/>
<polyline points="1013.6,574.0 1016.6,561.9 1022.3,564.2 1029.2,567.6 1032.6,564.2 1039.4,571.1 1046.3,575.6 1049.7,567.6 1055.4,576.8 1061.1,577.9 1066.8,572.2 1070.3,567.6 1074.8,574.5 1078.2,572.2" stroke="#b7c3e6" stroke-width="2.0"/>
<polyline points="143.6,559.0 149.3,561.1 155.4,564.1 163.6,563.1 167.7,537.6 170.8,532.1 173.2,532.5 175.9,542.7 183.0,548.8 189.1,543.7 191.2,549.8 196.3,550.9 204.5,556.0 210.6,559.0 214.7,568.2 222.8,573.3 224.9,585.6 233.1,577.4 241.2,573.3 249.4,579.5 257.6,577.4 263.7,571.3 266.8,563.5 269.8,567.2 271.9,577.4 278.0,579.5 284.1,580.5 290.3,576.4 298.4,576.4 302.5,580.5 308.6,580.5 314.8,582.5 322.9,588.7 329.1,587.6 335.0,585.6 341.1,589.7 347.3,583.5 359.5,576.4 365.6,575.4 371.8,571.3 377.9,580.5 384.0,573.3 389.1,569.2 394.2,577.4 400.4,569.2 405.5,559.0 408.5,575.4 416.7,575.4 426.9,573.3 437.1,570.3 443.3,570.3 449.4,571.3 457.6,579.5 467.8,573.3 478.0,571.3 486.2,581.5 494.3,577.4 498.4,571.3 504.6,557.0 512.7,561.1 518.9,559.0 527.0,560.1 535.0,563.1 538.1,571.7 540.1,588.1 544.2,571.7 547.3,586.0 552.4,592.1 555.4,588.1 562.6,594.2" stroke="#9dadde" stroke-width="2.0"/>
<polyline points="578.9,594.2 583.0,593.2 587.7,585.0 594.2,586.0 598.3,579.9 601.4,580.9 603.4,590.1 608.5,586.0 615.7,587.0 618.8,588.1 624.9,579.9 629.0,575.8 635.1,571.7 636.5,588.1 641.2,577.8 646.3,586.0 652.5,577.8 657.6,571.7 665.7,573.8 669.8,575.8 676.0,568.7 682.1,573.8 690.3,579.9 698.4,588.1 704.6,586.0 709.7,571.7 714.8,577.8 720.9,575.8 729.1,580.9 735.0,586.0 741.8,569.9 748.7,563.1 755.5,567.6 762.4,567.6 769.2,565.3 776.1,560.8 781.8,550.5 790.9,549.8 794.8,552.8 801.2,545.5 805.8,549.8 810.3,556.2 813.8,545.9 816.1,550.5 817.2,565.3 826.3,565.3 830.9,560.8 832.5,535.7 835.5,532.2 840.5,528.4 843.4,537.9 848.0,556.2 851.4,550.5 854.2,535.7 857.1,544.8 860.6,532.2 872.0,527.7 877.7,519.7 880.0,532.2 890.3,524.2 892.5,519.7 896.6,515.1 899.4,531.1 909.7,536.8 913.1,524.2 926.8,528.8 932.5,539.1 935.0,531.1 935.5,532.2 939.7,542.1 949.2,542.1 952.2,537.5 957.2,549.8 962.9,548.9 968.7,530.6 973.2,540.7 976.6,545.3 983.5,560.8 988.1,536.8 991.5,536.8" stroke="#9dadde" stroke-width="2.0"/>
<polyline points="1018.9,536.8 1022.3,537.3 1025.0,545.5 1030.3,537.3 1036.0,539.8 1041.7,544.8 1047.4,542.1 1052.0,547.1 1058.4,551.6 1063.4,548.2 1065.7,537.3 1070.3,537.3 1074.8,532.2" stroke="#9dadde" stroke-width="2.0"/>
<polyline points="143.6,558.0 148.3,569.2 150.3,559.0 154.4,565.2 161.6,564.1 165.6,563.1 170.8,559.0 175.9,561.1 181.0,565.2 186.1,564.1 192.2,569.2 198.3,575.4 205.5,582.5 210.6,580.5 216.7,586.6 224.9,587.6 233.1,591.7 241.2,581.5 249.4,580.5 257.6,591.7 264.7,583.5 269.8,591.7 278.0,595.8 285.2,597.8 290.3,587.6 298.4,587.6 302.5,593.8 308.6,585.6 318.9,590.7 327.0,588.7 335.0,586.6 343.2,585.6 347.3,591.7 352.4,595.8 355.4,588.7 358.5,606.0 362.6,603.0 367.7,591.7 372.8,601.9 375.9,611.1 381.0,607.0 384.0,612.1 388.1,601.9 395.3,597.8 400.4,599.9 405.5,603.0 410.6,595.8 414.7,589.7 417.7,579.5 420.8,581.5 422.8,593.8 429.0,594.2 435.1,594.2 441.2,599.9 446.3,601.9 452.5,599.9 457.6,594.8 462.7,583.5 467.8,581.5 473.9,584.6 479.0,579.5 482.1,590.7 487.2,597.8 495.4,599.9 501.5,603.0 504.6,583.5 508.6,577.4 514.8,575.4 518.9,573.3 522.9,582.5 529.1,580.5 535.0,579.5 541.1,567.6 549.3,557.4 555.4,553.3 559.5,548.2 572.8,550.3 575.9,553.3 578.9,548.2 583.0,556.4 587.1,545.2 590.2,539.0 594.2,547.2 600.4,546.2 606.5,542.1 611.6,545.2 615.7,551.3 620.8,556.4 629.0,555.4 635.1,557.4 640.2,550.3 646.3,554.4 652.5,558.4 657.6,557.4 665.7,565.6 673.9,567.6 682.1,565.6 690.3,563.5 698.4,562.5 706.6,561.5 714.8,561.5 722.9,563.5 735.0,561.5 737.7,577.9 743.0,576.8 746.4,581.3 753.3,572.2 756.7,558.5 762.4,569.9 769.2,563.1 775.0,567.6 780.7,579.0 787.5,581.3 793.2,576.8 796.6,580.2 803.5,576.8 808.1,572.2 813.8,581.3 819.5,576.8 828.6,579.0 835.5,565.3 844.6,567.6 849.2,563.1 858.3,567.6 865.1,568.8 872.0,563.1 881.1,565.3 890.3,558.5 899.4,556.2 903.9,560.8 908.5,551.6 914.2,547.1 917.6,556.2 924.5,558.5 931.3,556.2 935.0,555.1 937.8,563.1 942.4,561.9 947.0,568.8 953.8,572.2 960.7,569.9 968.7,560.8 974.4,556.2 981.2,563.1 984.6,560.8 988.1,558.5" stroke="#8097d6" stroke-width="2.0"/>
<polyline points="1013.6,544.8 1018.9,549.8 1025.7,555.1 1031.4,551.2 1038.3,550.5 1044.0,546.6 1049.7,549.8 1054.3,551.6 1061.1,552.1 1066.8,549.4 1070.3,553.9 1078.2,548.2" stroke="#8097d6" stroke-width="2.0"/>
<polyline points="143.6,553.9 146.2,563.1 149.3,571.3 152.4,583.5 155.0,588.7 157.9,568.2 160.5,575.4 163.6,571.3 166.7,570.3 169.7,575.4 172.8,579.5 175.9,577.4 178.9,570.3 183.0,565.2 185.7,550.9 190.2,549.8 194.2,549.8 197.3,532.5 202.4,549.8 205.5,541.7 212.6,537.6 216.7,532.5 218.8,535.5 222.8,549.8 229.0,553.9 236.1,559.0 239.2,541.7 242.3,546.4 245.3,545.8 253.5,559.0 256.6,559.0 259.6,564.1 261.7,571.3 264.7,569.2 269.8,575.4 274.9,580.5 280.0,577.4 283.7,567.6" stroke="#4f77c7" stroke-width="2.05"/>
<polyline points="331.1,553.9 334.2,569.2 335.0,581.5 337.0,593.8 341.1,585.6 343.2,585.6 350.3,616.2 353.4,603.0 355.4,606.0 357.9,577.4 361.6,575.8 365.6,569.2 369.7,563.5 372.2,575.4 375.4,554.5 378.9,571.3 384.0,564.7 389.1,558.0 392.2,549.8 397.3,563.1 400.4,563.5 403.4,571.3 410.6,568.8 414.7,557.4 418.8,554.5 423.3,550.4 428.0,555.4 432.0,559.0 435.1,558.0 439.6,547.8 442.9,564.1 448.4,561.1 453.5,549.8 458.6,558.0 462.1,550.4 467.8,554.9 473.9,559.0 477.6,550.9 481.5,532.5 488.2,540.6 495.4,548.8 498.4,545.8 508.6,549.2 512.3,541.7 515.8,545.8 520.9,545.8 528.1,541.7 531.1,548.8 535.0,545.8 540.1,554.4 543.2,547.2 548.3,537.0 551.3,549.2 555.4,541.1 557.9,553.3 559.5,554.4 573.8,554.4 576.9,537.0 581.0,537.0 584.0,540.1 587.7,546.2 590.2,537.0 593.2,537.4 596.3,543.1 599.4,538.6 604.5,540.1 611.6,543.1 615.7,537.0 618.8,540.7 624.9,538.0 628.0,540.1 632.0,527.8 634.1,531.9 636.5,530.9 640.2,545.2 645.3,528.8 651.4,510.4 654.5,510.4 657.6,519.6 665.7,527.8 668.2,519.6 670.9,527.8 676.0,523.7 685.2,527.8 687.2,524.3 693.3,545.2 696.4,542.1 704.6,546.2 707.6,550.3 712.7,542.1 715.8,551.3 722.9,555.4 727.0,559.5 735.0,559.5 739.6,569.9 745.3,544.8 748.7,545.5 752.1,549.8 757.8,550.5 762.4,556.2 767.0,557.4 771.5,567.6 777.2,573.3 780.7,574.5 786.4,577.9 789.8,587.0 794.4,577.9 798.9,581.3 803.5,585.9 807.6,588.2 810.3,579.0 813.8,567.6 819.5,556.2 826.3,558.5 833.2,563.1 840.0,565.3 846.9,551.6 851.4,560.8 858.3,565.3 867.4,567.6 872.0,555.1 881.1,560.8 886.8,555.1 892.5,558.5 899.4,555.1 903.9,560.8 909.7,555.1 917.6,559.6 922.2,572.2 925.6,577.9 927.9,572.2 931.3,574.5 935.0,567.6 937.8,563.1 942.4,569.9 945.8,573.3 948.8,558.9 959.5,558.0 962.9,549.8 968.7,549.8 977.8,555.1 980.8,563.1 984.6,550.5 991.5,550.0" stroke="#4f77c7" stroke-width="2.05"/>
<polyline points="1013.6,545.5 1016.6,542.5 1018.9,549.8 1024.6,552.8 1029.2,551.6 1038.3,556.9 1044.0,544.8 1047.4,543.7 1056.6,544.8 1058.4,548.9 1061.1,544.8 1063.4,548.9 1078.2,545.5" stroke="#4f77c7" stroke-width="2.05"/>
<polyline points="143.6,582.9 149.3,584.6 155.4,580.5 158.5,576.4 160.9,588.7 163.6,580.5 167.7,579.5 171.8,577.0 177.9,576.4 179.9,583.5 184.0,586.6 188.1,586.6 192.2,585.6 195.3,589.7 198.7,591.7 200.8,597.8 203.4,588.7 209.6,588.7 213.7,581.5 215.7,588.7 219.2,586.0 222.8,593.4 229.0,593.8 237.1,593.4 241.2,584.6 245.3,586.6 249.4,588.7 253.5,589.7 257.6,590.7 261.7,586.6 265.7,589.7 269.8,593.8 273.9,588.7 278.0,588.7 282.1,584.6 288.2,581.1 292.3,582.5 297.4,579.1 301.5,580.5 308.6,577.0 314.8,575.4 318.9,570.3 322.9,567.6 328.1,565.2 331.1,566.2 335.0,569.2" stroke="#00b050" stroke-width="2.3"/>
<polyline points="375.9,569.2 377.9,575.4 382.0,576.4 388.1,574.4 395.3,574.4 400.4,579.9 412.6,580.5 416.7,587.2 419.8,582.5 424.9,584.6 431.0,585.2 435.1,584.2 437.1,581.5 439.6,575.0 443.3,576.4 448.4,580.5 456.6,580.1 458.6,566.2 467.8,566.8 470.9,575.8 473.9,569.2 476.0,575.0 487.2,575.0 489.9,580.5 492.3,575.4 498.4,573.3 506.6,571.9 508.6,567.2 511.7,565.6 514.8,569.2 519.9,569.7 524.0,564.7 528.1,565.2 531.1,561.1 535.0,565.2 541.1,565.6 545.2,563.5 548.3,561.5 553.4,564.0 559.5,565.6 565.6,566.0 570.8,567.6 573.4,565.6 575.9,569.7 578.9,567.6 584.0,565.6 589.1,561.5 592.2,560.9 596.3,563.1 604.5,563.1 608.5,564.6 615.7,563.1 618.8,564.2 624.9,564.6 629.0,563.5 637.1,564.6 641.2,566.6 646.3,564.6 651.4,567.2 657.6,567.6 669.8,567.2 676.0,565.6 686.2,564.2 688.2,558.4 690.7,555.0 692.3,562.5 698.4,560.5 704.6,559.1 706.6,560.5 709.7,555.4 714.8,559.1 720.9,561.5 727.0,560.5 731.1,559.5 735.0,560.5 741.8,561.9 745.3,558.5 748.7,561.9 752.1,558.5 757.8,559.6 769.2,561.2 782.9,563.1 789.8,561.9 794.4,558.5 800.1,556.7 802.4,561.9 808.1,566.5 813.8,565.3 819.5,564.2 824.0,565.8 830.9,561.2 837.7,563.1 841.2,566.5 846.9,563.5 853.7,562.6 858.3,559.6 865.1,560.3 869.7,563.5 876.6,567.6 882.9,572.2" stroke="#00b050" stroke-width="2.3"/>
<polyline points="905.1,559.6 910.8,564.2 915.4,567.6 918.8,566.5 922.2,574.5 929.1,577.2 935.0,578.6 935.5,579.0 937.8,580.6 940.6,578.6 976.6,580.6 980.1,587.0 986.2,582.9" stroke="#00b050" stroke-width="2.3"/>
<polyline points="1013.6,583.6 1016.6,589.3 1020.5,581.3 1023.4,583.2 1028.0,581.8 1033.7,581.3 1038.3,583.2 1045.1,582.5 1052.0,580.9 1054.7,582.5 1058.4,578.6 1063.4,581.3 1070.3,579.5 1078.2,575.6" stroke="#00b050" stroke-width="2.3"/>
<polyline points="149.7,587.2 152.4,580.5 155.4,581.9 157.5,584.6 161.6,585.6 165.6,584.6 168.7,584.0 171.8,583.1 174.8,586.6 177.9,580.5 181.0,581.5 186.1,585.6 190.2,586.6 194.2,581.1 197.3,585.6 200.4,589.7 205.5,587.6 211.6,582.5 214.7,584.6 216.7,587.6 222.8,587.2 231.0,587.6 239.2,587.2 246.3,590.7 250.4,595.8 253.5,591.7 255.5,586.6 258.6,589.7 262.7,588.7 268.8,587.6 271.9,591.3 276.0,587.6 282.1,589.7 287.2,589.3 290.3,591.3 294.3,590.1 308.6,589.7" stroke="#0070c0" stroke-width="2.3"/>
<polyline points="353.4,591.7 356.5,587.6 360.5,588.7 364.6,590.7 368.7,587.6 372.8,591.7 375.9,593.8 384.0,591.7 391.2,591.7 398.3,595.8 405.5,593.8 409.6,585.6 413.7,584.6 417.7,580.5 420.8,582.5 425.9,582.5 430.0,579.5 435.1,577.4 439.2,575.4 442.3,577.4 445.3,575.0 448.4,580.5 451.4,572.3 457.6,573.3 462.7,571.3 467.8,571.3 469.8,568.2 473.5,568.2 474.9,574.4 482.1,576.4 487.2,575.4 491.3,578.4 496.4,577.4 504.6,574.4 508.6,578.4 521.9,578.4 526.0,573.3 529.1,574.4 535.0,574.4 550.3,574.2 553.8,576.2 559.5,572.7 565.2,572.1" stroke="#0070c0" stroke-width="2.3"/>
<polyline points="581.6,565.2 586.1,566.0 587.7,568.0 592.2,564.6 596.3,566.6 600.4,567.6 605.5,561.5 611.6,561.1 616.7,563.1 620.8,562.5 625.9,559.5 629.0,563.5 635.1,562.5 641.2,563.5 643.3,561.9 645.3,565.2 651.4,564.6 657.6,563.5 662.7,564.6 665.7,567.6 669.8,567.6 676.0,564.6 682.1,563.5 688.2,562.5 691.3,567.2 698.4,565.2 704.6,564.6 720.9,564.6 725.0,563.1 735.0,563.1 744.1,563.1 746.4,558.5 748.7,562.6 757.8,562.6 761.3,558.5 765.8,556.7 771.5,559.6 776.1,560.8 779.5,558.5 782.9,559.6 785.2,557.4 792.1,558.0 801.2,558.5 806.9,563.5 813.8,558.5 820.6,556.9 834.3,556.9 838.9,562.6 842.3,558.5 862.9,558.5 866.3,563.1 872.0,557.4 876.6,558.5 881.1,563.1 885.7,563.1 892.5,558.5 903.9,560.8 915.4,560.8 919.9,563.5 935.0,563.5 937.8,563.5 941.3,568.8 947.0,572.2 952.7,575.6 956.1,577.9 960.7,575.6 964.1,571.7 975.5,571.7 977.8,575.6 983.0,567.6" stroke="#0070c0" stroke-width="2.3"/>
<polyline points="1013.6,571.7 1018.9,570.4 1024.6,569.9 1029.2,568.3 1032.6,568.1 1037.1,569.9 1045.1,571.1 1049.7,572.6 1053.1,574.0 1057.7,577.9 1063.4,578.4 1070.3,576.8 1078.2,576.3" stroke="#0070c0" stroke-width="2.3"/>
<polyline points="146.8,578.4 153.4,578.0 156.5,578.8 165.6,580.5 169.3,576.4 175.9,579.5 178.9,577.4 186.1,568.2 191.2,577.4 194.9,568.2 197.3,571.3 202.4,569.7 206.5,568.2 211.6,573.3 214.7,570.3 218.8,572.3 224.9,576.0 229.0,575.8 235.1,573.3 239.2,571.3 244.3,570.7 248.0,576.4 250.4,575.4 253.5,576.4 257.6,574.4 263.7,575.8 269.8,572.3 276.0,571.9 286.6,571.9" stroke="#ffc000" stroke-width="2.3"/>
<polyline points="322.5,569.9 328.1,571.3 332.1,569.2 335.0,568.2 345.2,568.2 348.3,569.9 353.4,565.6 359.5,567.8 365.6,569.9 370.8,569.7 373.2,568.2 376.9,569.2 380.4,571.3 384.0,567.8 386.1,569.2 392.2,565.2 398.3,567.2 404.5,568.2 416.7,567.8 422.8,569.7 428.0,569.7 433.1,567.2 439.2,565.2 443.3,565.6 446.3,564.1 449.4,565.2 457.6,563.1 463.7,564.1 467.8,565.2 473.9,563.5 479.0,561.1 482.1,562.7 486.2,561.5 490.3,563.5 498.4,565.2 504.6,565.6 508.6,568.2 514.8,567.8 518.9,569.2 522.9,567.8 526.0,563.5 529.1,567.2 535.0,565.6 540.1,565.2 543.2,561.5 547.3,565.6 555.4,566.0 559.5,565.6 562.6,563.5 565.2,565.6" stroke="#ffc000" stroke-width="2.3"/>
<polyline points="581.6,561.1 584.0,565.2 592.2,566.0 602.4,565.6 614.7,565.6 618.8,563.5 622.8,565.6 629.0,564.6 635.1,563.1 641.2,564.0 649.4,563.1 657.6,561.5 665.7,562.5 676.0,561.9 682.1,561.5 687.2,558.4 692.3,555.0 696.4,551.3 701.5,551.3 704.6,553.3 710.7,552.9 718.9,549.7 728.1,549.7 732.1,547.2 735.0,549.7 740.7,547.1 746.4,550.5 753.3,553.9 757.8,558.5 760.1,561.9 764.7,559.6 769.2,562.6 773.8,558.5 777.2,563.1 782.9,563.5 789.8,561.9 794.4,561.9 796.6,565.3 801.2,567.6 812.6,567.6 818.3,574.5 822.9,575.6 828.6,574.5 832.0,576.3 836.6,573.3 841.2,581.3 846.9,576.8 850.3,575.6 854.9,576.8 858.3,580.2 865.1,579.0 877.7,577.9 881.1,579.5 890.3,580.9 897.1,585.4 903.9,585.9 910.8,588.2 922.2,588.6 929.1,590.5 932.5,589.3 935.0,585.9 936.7,585.9 941.3,587.0 945.8,590.5 950.4,595.5 953.8,593.9 956.1,594.6 962.9,592.7 967.5,591.6 972.1,590.9 977.8,593.9 982.4,593.9 986.9,597.3 991.5,595.0" stroke="#ffc000" stroke-width="2.3"/>
<polyline points="1015.9,593.9 1018.9,593.9 1024.6,598.4 1031.4,599.6 1038.3,599.1 1044.0,598.4 1047.4,596.2 1052.0,596.8 1056.6,595.0 1064.5,593.9 1066.8,594.6 1068.4,579.0 1071.4,577.9 1074.8,571.1" stroke="#ffc000" stroke-width="2.3"/>
<polyline points="143.6,600.9 147.3,599.9 152.4,595.8 155.4,595.4 161.6,594.8 166.1,590.1 168.7,594.2 171.8,596.2 175.9,595.4 182.0,593.8 185.1,594.8 189.1,598.3 192.2,597.8 200.0,592.7 202.4,597.8 205.5,589.7 210.6,590.7 216.7,590.7 222.8,589.7 229.0,590.1 235.1,591.7 238.2,593.8 241.6,590.7 246.3,597.8 250.4,602.5 257.6,601.9 263.7,599.5 269.8,600.9 276.0,603.0 279.0,604.4 281.1,608.1 284.1,607.0 286.6,608.1 290.3,605.6 298.4,604.0 306.6,603.6 310.7,603.0 316.8,603.6 322.9,603.6 325.4,602.3 328.1,604.0 335.0,604.4 338.1,606.0 342.2,606.0" stroke="#c00000" stroke-width="2.3"/>
<polyline points="364.6,614.2 367.7,614.6 377.9,621.3 381.6,619.9 384.0,636.7 386.7,617.3 394.2,617.9 400.4,617.3 404.5,615.2 409.6,608.1 416.7,611.1 422.8,605.0 428.0,609.1 435.1,609.7 440.2,609.1 443.3,607.0 446.3,606.0 448.4,596.8 453.5,595.8 459.6,594.2 467.8,593.4 473.9,593.8 480.0,593.4 485.2,591.7 498.4,591.7 502.5,592.3 507.6,589.7 514.8,590.7 517.8,589.3 524.0,591.7 535.0,589.7 540.1,593.2 544.2,591.1 553.4,592.8 559.5,590.7 565.2,590.7" stroke="#c00000" stroke-width="2.3"/>
<polyline points="581.6,590.1 585.1,591.5 594.2,591.5 596.3,593.6 601.4,593.2 604.5,589.1 614.7,587.0 618.8,585.0 622.8,589.5 631.0,587.7 635.1,589.5 640.2,589.5 643.3,587.7 651.4,587.0 655.5,585.6 659.6,585.6 663.7,583.6 668.8,583.0 673.9,585.0 676.0,581.5 678.0,583.0 682.1,579.9 688.2,577.8 694.3,576.4 698.4,578.5 708.6,578.5 715.8,580.9 720.9,585.0 729.1,583.4 735.0,583.0 746.4,584.1 751.0,585.9 756.7,591.6 762.4,592.7 769.2,595.5 773.4,590.5 776.6,593.2 779.5,591.6 787.5,593.9 792.1,590.0 796.6,589.8 803.5,591.6 808.1,593.2 813.8,590.5 821.8,591.6 827.5,590.9 835.5,591.6 838.9,595.5 844.6,595.0 849.2,593.2 853.7,597.3 858.3,598.4 867.4,596.2 872.0,596.8 874.3,591.6 876.6,593.2 883.4,591.1 891.4,587.0 897.1,582.0 906.2,582.0 914.2,577.4 917.6,577.9 925.6,580.9 930.2,580.6 932.5,577.9 935.0,577.9 936.0,577.9" stroke="#c00000" stroke-width="2.3"/>
</g>
</svg>
<div class="src">资料来源：Qinrex 资讯 · 上海期货交易所 Win.d · 银河期货</div>
</body></html>
